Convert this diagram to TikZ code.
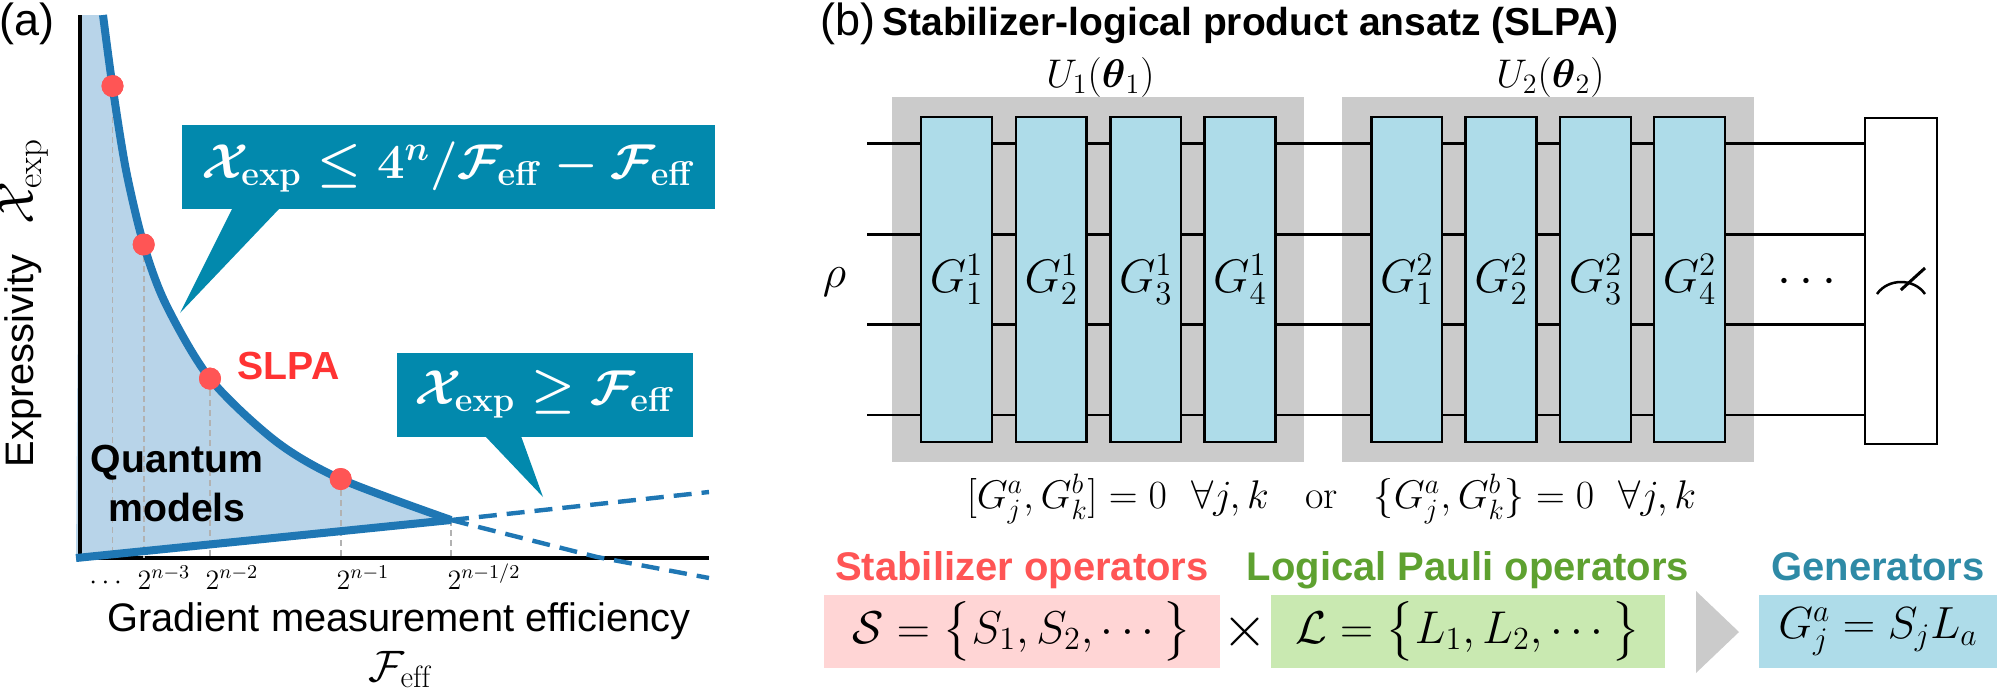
\documentclass[tikz,border=0pt]{standalone}
\usepackage{fix-cm}
\usepackage{amsmath}
\usepackage{fontspec}
\setsansfont{Liberation Sans}
\usetikzlibrary{arrows.meta}
\definecolor{curveblue}{HTML}{1F77B4}
\definecolor{regionblue}{HTML}{B8D4E9}
\definecolor{calloutteal}{HTML}{0289AD}
\definecolor{slpared}{HTML}{FF5555}
\definecolor{slpatext}{HTML}{FF3333}
\definecolor{gatefill}{HTML}{AEDCE9}
\definecolor{layergray}{HTML}{CBCBCB}
\definecolor{stabfill}{HTML}{FFD5D5}
\definecolor{logfill}{HTML}{C9E9B1}
\definecolor{logtext}{HTML}{5EA130}
\definecolor{gentext}{HTML}{2E8AA6}
\newcommand{\sizedfont}[1]{\fontsize{#1}{#1}\selectfont}
\tikzset{
  panellabel/.style={font=\sffamily\sizedfont{22.5},inner sep=0pt,anchor=base west},
  axislabel/.style={font=\sffamily\sizedfont{19.9},inner sep=0pt,anchor=base},
  boldlabel/.style={font=\sffamily\bfseries\sizedfont{19.6},inner sep=0pt,anchor=base},
  optitle/.style={font=\sffamily\bfseries\sizedfont{20},inner sep=0pt,anchor=base},
  ticklabel/.style={font=\sizedfont{14},inner sep=0pt,anchor=base},
  calloutbox/.style={fill=calloutteal,text=white,inner sep=0pt,font=\sizedfont{24.5}\boldmath},
  slpadot/.style={circle,fill=slpared,inner sep=0pt,minimum size=11pt},
  dropline/.style={densely dashed,line width=0.9pt,draw=black!30},
  thickcurve/.style={line width=4pt,draw=curveblue},
  dashcurve/.style={line width=2.2pt,draw=curveblue,dash pattern=on 9pt off 5pt},
  layerbox/.style={fill=layergray,inner sep=0pt,minimum width=206pt,minimum height=182.5pt},
  gate/.style={draw=black,fill=gatefill,line width=1.25pt,inner sep=0pt,minimum width=35.4pt,minimum height=162.5pt,font=\sizedfont{23.5}},
  mathlabel/.style={font=\sizedfont{20},inner sep=0pt,anchor=base},
  opbox/.style={inner sep=0pt,minimum height=36.5pt,font=\sizedfont{23}},
  wire/.style={line width=1.25pt}
}
\begin{document}
\begin{tikzpicture}[x=0.5pt,y=-0.5pt]
\useasboundingbox (0,0) rectangle (1997,692);
\fill[regionblue] (80,15) -- plot[smooth] coordinates {(103,15) (112.5,86) (126,170) (143.7,244.5) (166,304.5) (210,378.6) (275.5,441) (340.7,479) (451,520)} -- (76,558) -- cycle;
\draw[line width=2.2pt] (80,15) -- (80,558) -- (709,558);
\coordinate (xaxis) at (80,558);
\node[slpadot] (dot1) at (112.5,86) {};
\node[slpadot] (dot2) at (143.7,244.5) {};
\node[slpadot] (dot3) at (210,378.6) {};
\node[slpadot] (dot4) at (340.7,479) {};
\coordinate (meet) at (451,520);
\foreach \d in {dot1,dot2,dot3,dot4,meet}
  \draw[dropline] (\d) -- (\d |- xaxis);
\draw[thickcurve] plot[smooth] coordinates {(103,15) (112.5,86) (126,170) (143.7,244.5) (166,304.5) (210,378.6) (275.5,441) (340.7,479) (451,520)};
\draw[thickcurve] (76,558) -- (meet);
\draw[dashcurve] (meet) -- (597,557) -- (709,578);
\draw[dashcurve] (meet) -- (709,492);
\node[slpadot] at (dot1) {};
\node[slpadot] at (dot2) {};
\node[slpadot] at (dot3) {};
\node[slpadot] at (dot4) {};
\node[panellabel] (labela) at (-1,35) {(a)};
\node[axislabel,rotate=90] (ylabel) at (33,361) {Expressivity};
\node[inner sep=0pt,rotate=90,font=\sizedfont{25}] (ysym) at (24,181.5) {$\mathcal{X}_{\mathrm{exp}}$};
\node[axislabel] (xlabel) at (399,631) {Gradient measurement efficiency};
\node[inner sep=0pt,anchor=base,font=\sizedfont{22}] (xsym) at (400,681) {$\mathcal{F}_{\mathrm{eff}}$};
\node[ticklabel] (tick0) at (108,589) {$\cdots$};
\node[ticklabel] (tick1) at (164,589) {$2^{n-3}$};
\node[ticklabel] (tick2) at (232,589) {$2^{n-2}$};
\node[ticklabel] (tick3) at (363,589) {$2^{n-1}$};
\node[ticklabel] (tick4) at (484,589) {$2^{n-1/2}$};
\node[boldlabel,text=slpatext] (slpa) at (288.5,379.5) {SLPA};
\node[boldlabel] (quantum) at (177,472) {Quantum};
\node[boldlabel] (models) at (177,521) {models};
\node[calloutbox,minimum width=266.5pt,minimum height=42pt] (upper) at (448.5,167) {$\mathcal{X}_{\mathbf{exp}}\leq 4^n/\mathcal{F}_{\mathbf{eff}}-\mathcal{F}_{\mathbf{eff}}$};
\fill[calloutteal] (232,209) -- (279,209) -- (180,313) -- cycle;
\node[calloutbox,minimum width=148pt,minimum height=42pt] (lower) at (545,394.5) {$\mathcal{X}_{\mathbf{exp}}\geq\mathcal{F}_{\mathbf{eff}}$};
\fill[calloutteal] (485,436) -- (521,436) -- (543,497) -- cycle;
\node[panellabel] (labelb) at (820,35) {(b)};
\node[inner sep=0pt,anchor=base west,font=\sffamily\bfseries\sizedfont{19.5}] (title) at (882,35) {Stabilizer-logical product ansatz (SLPA)};
\node[mathlabel] (u1) at (1100.4,87) {$U_1(\boldsymbol{\theta}_1)$};
\node[mathlabel] (u2) at (1550.4,87) {$U_2(\boldsymbol{\theta}_2)$};
\node[layerbox] (layer1) at (1098,279.5) {};
\node[layerbox] (layer2) at (1548,279.5) {};
\node[draw=black,fill=white,line width=1.25pt,inner sep=0pt,minimum width=35.8pt,minimum height=163pt] (meas) at (1901,281) {};
\coordinate (w1) at (867,143.7);
\coordinate (w2) at (867,234.3);
\coordinate (w3) at (867,324.7);
\coordinate (w4) at (867,415);
\foreach \w in {w1,w2,w3,w4}
  \draw[wire] (\w) -- (\w -| meas.west);
\node[gate] (g11) at (956.6,279.5) {$G_1^1$};
\node[gate] (g12) at (1051.3,279.5) {$G_2^1$};
\node[gate] (g13) at (1145.7,279.5) {$G_3^1$};
\node[gate] (g14) at (1239.9,279.5) {$G_4^1$};
\node[gate] (g21) at (1406.7,279.5) {$G_1^2$};
\node[gate] (g22) at (1501.1,279.5) {$G_2^2$};
\node[gate] (g23) at (1595.5,279.5) {$G_3^2$};
\node[gate] (g24) at (1689.5,279.5) {$G_4^2$};
\node[inner sep=0pt,font=\sizedfont{23}] (rho) at (834.5,282) {$\rho$};
\node[inner sep=0pt,font=\sizedfont{25}] (dots) at (1811,282) {$\cdots$};
\draw[line width=1.25pt] (1877,294) .. controls (1888,278) and (1914,278) .. (1925,294);
\draw[line width=1.5pt] (1900.8,290) -- (1925,268);
\node[mathlabel] (rule) at (1331.5,508) {$[G_j^a,G_k^b]=0~~\forall j,k$~~~or~~~$\{G_j^a,G_k^b\}=0~~\forall j,k$};
\node[optitle,text=slpared] (stabtitle) at (1022,580) {Stabilizer operators};
\node[optitle,text=logtext] (logtitle) at (1468,580) {Logical Pauli operators};
\node[optitle,text=gentext] (gentitle) at (1878,580) {Generators};
\node[opbox,fill=stabfill,minimum width=198pt] (stab) at (1022,631.5) {$\mathcal{S}=\big\{S_1,S_2,\cdots\big\}$};
\node[opbox,fill=logfill,minimum width=197pt] (logic) at (1468,631.5) {$\mathcal{L}=\big\{L_1,L_2,\cdots\big\}$};
\fill[gatefill] (1759,595) rectangle (1997,668);
\node[inner sep=0pt,font=\sizedfont{22.5}] (gens) at (1878,631.5) {$G_j^a=S_jL_a$};
\node[inner sep=0pt,font=\sizedfont{29}] (times) at (1245,632) {$\times$};
\fill[layergray] (1696,591) -- (1739,632) -- (1696,673) -- cycle;
\end{tikzpicture}
\end{document}
